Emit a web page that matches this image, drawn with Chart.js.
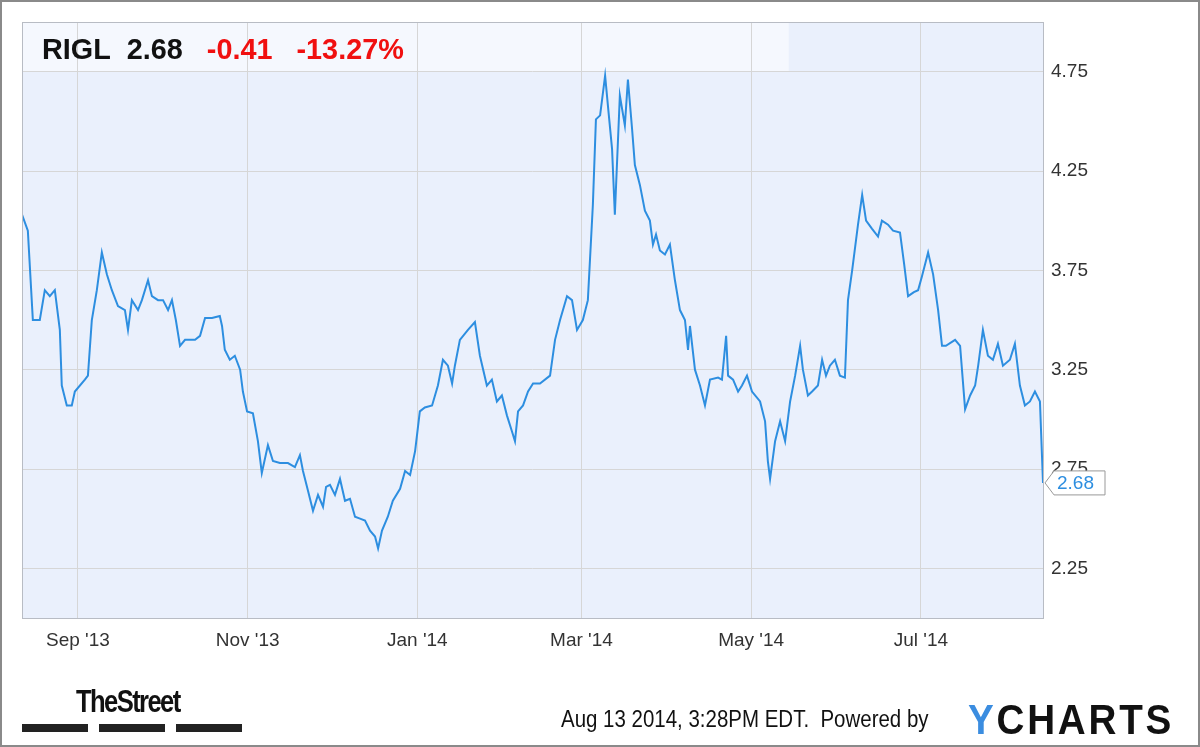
<!DOCTYPE html>
<html><head><meta charset="utf-8">
<script src="https://cdn.jsdelivr.net/npm/chart.js@4/dist/chart.umd.min.js"></script>
<style>
html,body{margin:0;padding:0;background:#fff;}
#wrap{position:relative;width:1200px;height:747px;box-sizing:border-box;border:2px solid #8a8a8a;overflow:hidden;font-family:Arial,"Liberation Sans",sans-serif;}
canvas{position:absolute;left:-2px;top:-2px;}
.t{position:absolute;white-space:nowrap;}
</style></head><body>
<div id="wrap"><canvas id="c" width="1200" height="747"></canvas>
<div class="t" style="left:40px;top:30px;font-size:30px;font-weight:bold;color:#111;transform:scaleX(0.96);transform-origin:left">RIGL&nbsp;&nbsp;2.68&nbsp;&nbsp;&nbsp;<span style="color:#f01010">-0.41&nbsp;&nbsp;&nbsp;-13.27%</span></div>
<div class="t" style="left:74px;top:681px;font-size:32px;font-weight:bold;color:#111;letter-spacing:-2px;transform:scaleX(0.8);transform-origin:left">TheStreet</div>
<div class="t" style="left:20px;top:722px;width:66px;height:8px;background:#222"></div>
<div class="t" style="left:97px;top:722px;width:66px;height:8px;background:#222"></div>
<div class="t" style="left:174px;top:722px;width:66px;height:8px;background:#222"></div>
<div class="t" style="left:559px;top:704px;font-size:23px;color:#111;transform:scaleX(0.89);transform-origin:left">Aug 13 2014, 3:28PM EDT.&nbsp; Powered by</div>
<div class="t" style="left:966px;top:694px;font-size:42px;font-weight:bold;color:#111;letter-spacing:3px;transform:scaleX(0.92);transform-origin:left"><span style="color:#3b8de0">Y</span>CHARTS</div>
</div>
<script>
const days=[-20.1,-18,-16.2,-13.7,-11.9,-10.1,-8.3,-6.5,-5.8,-4,-2.2,-1.1,2.5,3.6,5,6.8,8.6,10.4,12.2,14.4,16.9,18,19.4,21.6,23,25.2,26.6,28.8,30.6,32.4,33.8,35.2,36.7,38.5,42.1,43.9,45.7,48.2,51,51.8,52.8,54.6,56.4,58.3,59.3,60.8,62.9,64.7,66.1,68.3,70.1,72.6,75.5,78,79.8,80.9,82.7,84.5,86.3,88.1,89.2,90.6,92.4,94.2,96,97.8,99.6,101.4,103.2,105,106.8,107.9,109.3,111.4,113.2,115.8,117.6,119.4,121.2,122.9,124.7,127.3,129.4,131.2,133,134.5,135.5,137.3,140.2,142.7,144.5,147,148.8,150.6,152.4,154.2,156,157.1,158.2,160,161.8,163.6,166.1,169.7,171.5,173.3,175.8,177.6,179.4,181.5,183.3,185.1,186.2,187.7,189.5,190.5,192,193,194.8,196.6,197.7,199.2,200.2,202,203.8,205.6,206.7,207.8,209.2,211,212.8,214.6,216.4,218.2,219.3,220,221.8,223.6,225.4,227.2,230.1,231.5,233,233.7,235.5,237.3,238.7,240.5,242.3,245.2,247,248,248.8,250.6,252.4,254.2,256,257.8,259.6,260.6,262.4,263.9,266,267.5,268.9,270.3,272.1,273.9,275.7,276.8,278.3,280.4,281.9,283.3,285.4,287.6,289,291.2,293,295.5,297,298.4,300.5,302,303.4,305.6,307.4,309.2,310.6,312,315.3,317.1,318.9,320.7,322.5,323.6,325.3,327.1,328.9,330.7,332.5,335,336.8,338.6,340.4,342.2,344,345.8,346.9];
const prices=[4.03,3.95,3.50,3.50,3.65,3.62,3.65,3.45,3.17,3.07,3.07,3.14,3.20,3.22,3.50,3.65,3.84,3.73,3.65,3.57,3.55,3.45,3.60,3.55,3.60,3.70,3.62,3.60,3.60,3.55,3.60,3.50,3.37,3.40,3.40,3.42,3.51,3.51,3.52,3.47,3.35,3.30,3.32,3.25,3.14,3.04,3.03,2.89,2.73,2.87,2.79,2.78,2.78,2.76,2.82,2.74,2.64,2.54,2.62,2.56,2.66,2.67,2.62,2.70,2.59,2.60,2.51,2.50,2.49,2.44,2.41,2.35,2.44,2.51,2.59,2.65,2.74,2.72,2.84,3.04,3.06,3.07,3.17,3.30,3.27,3.18,3.27,3.40,3.45,3.49,3.32,3.17,3.20,3.09,3.12,3.02,2.94,2.89,3.04,3.07,3.14,3.18,3.18,3.22,3.40,3.50,3.62,3.60,3.45,3.50,3.60,4.08,4.51,4.53,4.73,4.58,4.36,4.03,4.63,4.48,4.71,4.46,4.28,4.18,4.05,4.00,3.88,3.93,3.85,3.83,3.88,3.70,3.55,3.50,3.35,3.47,3.25,3.17,3.07,3.20,3.21,3.20,3.42,3.22,3.20,3.14,3.17,3.22,3.14,3.09,2.99,2.79,2.70,2.89,2.99,2.89,3.09,3.22,3.37,3.25,3.12,3.14,3.17,3.30,3.22,3.27,3.30,3.22,3.21,3.60,3.75,3.98,4.13,4.00,3.96,3.92,4.00,3.98,3.95,3.94,3.78,3.62,3.64,3.65,3.72,3.84,3.73,3.55,3.37,3.37,3.40,3.37,3.05,3.12,3.17,3.27,3.45,3.32,3.30,3.38,3.27,3.30,3.38,3.17,3.07,3.09,3.14,3.09,2.68];
const xTickDays=[0,61,122,181,242,303];
const xTickLabels=["Sep '13","Nov '13","Jan '14","Mar '14","May '14","Jul '14"];
const yTicks=[2.25,2.75,3.25,3.75,4.25,4.75];
const lastLabel="2.68";

const bg={id:'bg',beforeDraw(ch){const a=ch.chartArea,c=ch.ctx;c.save();c.fillStyle='#eaf0fc';c.fillRect(a.left,a.top,a.right-a.left,a.bottom-a.top);
c.fillStyle='#f5f8fe';c.fillRect(a.left,a.top,ch.scales.x.getPixelForValue(255.5)-a.left,ch.scales.y.getPixelForValue(4.75)-a.top);c.restore();},
afterDraw(ch){const a=ch.chartArea,c=ch.ctx;c.save();c.strokeStyle='#b8bcc4';c.lineWidth=1;c.strokeRect(a.left+0.5,a.top+0.5,a.right-a.left,a.bottom-a.top);
const y=ch.scales.y.getPixelForValue(prices[prices.length-1]);const x=a.right+2;
c.fillStyle='#fff';c.strokeStyle='#999';c.beginPath();c.moveTo(x,y);c.lineTo(x+9,y-12);c.lineTo(x+60,y-12);c.lineTo(x+60,y+12);c.lineTo(x+9,y+12);c.closePath();c.fill();c.stroke();
c.fillStyle='#2d8ee0';c.font='19px Arial';c.textBaseline='middle';c.fillText(lastLabel,x+12,y+1);c.restore();}};

new Chart(document.getElementById('c'),{type:'line',
data:{datasets:[{data:days.map((d,i)=>({x:d,y:prices[i]})),borderColor:'#2d8ee0',borderWidth:2,pointRadius:0,tension:0,fill:false}]},
options:{responsive:false,animation:false,
layout:{padding:{left:22,top:22,right:0,bottom:0}},
plugins:{legend:{display:false},tooltip:{enabled:false}},
scales:{
x:{type:'linear',min:-20.1,max:346.9,afterBuildTicks(s){s.ticks=xTickDays.map(v=>({value:v}));},
 afterFit(s){s.height=129;},
 grid:{color:'#d6d6d6',drawTicks:false},border:{display:false},
 ticks:{padding:11,color:'#333',font:{size:19,family:'Arial'},maxRotation:0,callback:(v)=>{const i=xTickDays.indexOf(v);return i>=0?xTickLabels[i]:'';}}},
y:{position:'right',min:2,max:5,afterBuildTicks(s){s.ticks=yTicks.map(v=>({value:v}));},
 afterFit(s){s.width=157;},
 grid:{color:'#d6d6d6',drawTicks:false},border:{display:false},
 ticks:{padding:8,color:'#333',font:{size:19,family:'Arial'},callback:v=>v.toFixed(2)}}}},
plugins:[bg]});
</script></body></html>
